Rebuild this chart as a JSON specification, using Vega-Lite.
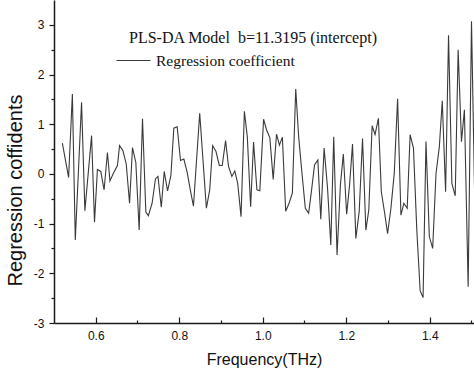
{
  "$schema": "https://vega.github.io/schema/vega-lite/v6.json",
  "width": 420,
  "height": 323,
  "autosize": {"type": "none"},
  "padding": {"left": 54, "top": 0, "right": 0, "bottom": 45},
  "background": "white",
  "config": {"view": {"stroke": null}},
  "title": {
    "text": "PLS-DA Model\u00a0\u00a0b=11.3195 (intercept)",
    "orient": "top",
    "anchor": "start",
    "frame": "group",
    "offset": -59,
    "dx": 75,
    "baseline": "alphabetic",
    "font": "Liberation Serif",
    "fontSize": 16,
    "fontWeight": "normal",
    "color": "#111"
  },
  "data": {
    "values": [
      {"f": 0.520, "v": 0.62}, {"f": 0.535, "v": -0.07}, {"f": 0.544, "v": 1.61}, {"f": 0.551, "v": -1.33},
      {"f": 0.566, "v": 1.44}, {"f": 0.574, "v": -0.74}, {"f": 0.590, "v": 0.77}, {"f": 0.597, "v": -0.97},
      {"f": 0.604, "v": 0.09}, {"f": 0.612, "v": 0.05}, {"f": 0.620, "v": -0.32}, {"f": 0.628, "v": 0.43},
      {"f": 0.634, "v": -0.14}, {"f": 0.642, "v": 0.01}, {"f": 0.652, "v": 0.17}, {"f": 0.657, "v": 0.57},
      {"f": 0.665, "v": 0.47}, {"f": 0.673, "v": 0.20}, {"f": 0.681, "v": -0.59}, {"f": 0.688, "v": 0.53},
      {"f": 0.696, "v": 0.23}, {"f": 0.704, "v": -1.13}, {"f": 0.712, "v": 1.11}, {"f": 0.720, "v": -0.77},
      {"f": 0.726, "v": -0.84}, {"f": 0.735, "v": -0.59}, {"f": 0.743, "v": -0.10}, {"f": 0.749, "v": -0.05},
      {"f": 0.757, "v": -0.67}, {"f": 0.764, "v": 0.05}, {"f": 0.772, "v": -0.34}, {"f": 0.780, "v": -0.03},
      {"f": 0.787, "v": 0.92}, {"f": 0.795, "v": 0.95}, {"f": 0.803, "v": 0.27}, {"f": 0.811, "v": 0.30},
      {"f": 0.819, "v": 0.03}, {"f": 0.826, "v": -0.30}, {"f": 0.834, "v": -0.65}, {"f": 0.849, "v": 1.22},
      {"f": 0.865, "v": -0.69}, {"f": 0.873, "v": -0.32}, {"f": 0.880, "v": 0.57}, {"f": 0.888, "v": 0.45},
      {"f": 0.896, "v": 0.17}, {"f": 0.903, "v": 0.17}, {"f": 0.911, "v": 0.67}, {"f": 0.918, "v": 0.15},
      {"f": 0.926, "v": -0.05}, {"f": 0.933, "v": 0.06}, {"f": 0.940, "v": -0.19}, {"f": 0.948, "v": -0.86},
      {"f": 0.956, "v": 1.26}, {"f": 0.963, "v": 0.75}, {"f": 0.971, "v": -0.66}, {"f": 0.978, "v": 0.64},
      {"f": 0.986, "v": -0.32}, {"f": 0.993, "v": -0.34}, {"f": 1.002, "v": 1.10}, {"f": 1.009, "v": 0.89},
      {"f": 1.017, "v": 0.73}, {"f": 1.025, "v": -0.11}, {"f": 1.033, "v": 0.80}, {"f": 1.040, "v": 0.58},
      {"f": 1.047, "v": 0.74}, {"f": 1.055, "v": -0.75}, {"f": 1.063, "v": -0.59}, {"f": 1.071, "v": -0.38},
      {"f": 1.079, "v": 1.71}, {"f": 1.086, "v": 0.75}, {"f": 1.094, "v": 0.01}, {"f": 1.102, "v": -0.69},
      {"f": 1.110, "v": -0.79}, {"f": 1.117, "v": -0.32}, {"f": 1.124, "v": 0.18}, {"f": 1.132, "v": 0.28},
      {"f": 1.139, "v": -0.91}, {"f": 1.147, "v": 0.52}, {"f": 1.155, "v": -0.26}, {"f": 1.163, "v": -1.43},
      {"f": 1.170, "v": 0.75}, {"f": 1.178, "v": -1.63}, {"f": 1.186, "v": -0.22}, {"f": 1.193, "v": 0.40},
      {"f": 1.201, "v": -0.81}, {"f": 1.208, "v": -0.22}, {"f": 1.215, "v": 0.60}, {"f": 1.223, "v": -1.30},
      {"f": 1.231, "v": -0.76}, {"f": 1.239, "v": 0.71}, {"f": 1.247, "v": -1.13}, {"f": 1.254, "v": -0.73},
      {"f": 1.262, "v": 0.97}, {"f": 1.269, "v": 0.79}, {"f": 1.277, "v": 1.12}, {"f": 1.284, "v": -0.36},
      {"f": 1.292, "v": -0.79}, {"f": 1.299, "v": -1.20}, {"f": 1.307, "v": -0.69}, {"f": 1.315, "v": 0.01},
      {"f": 1.323, "v": 1.51}, {"f": 1.331, "v": -0.83}, {"f": 1.338, "v": -0.59}, {"f": 1.346, "v": -0.69},
      {"f": 1.353, "v": 0.79}, {"f": 1.361, "v": 0.52}, {"f": 1.369, "v": -1.13}, {"f": 1.377, "v": -2.35},
      {"f": 1.384, "v": -2.49}, {"f": 1.391, "v": 0.65}, {"f": 1.399, "v": -1.26}, {"f": 1.407, "v": -1.50},
      {"f": 1.415, "v": 0.01}, {"f": 1.423, "v": 0.55}, {"f": 1.430, "v": 1.47}, {"f": 1.438, "v": -0.36},
      {"f": 1.445, "v": 2.79}, {"f": 1.453, "v": -0.19}, {"f": 1.461, "v": -0.44}, {"f": 1.468, "v": 2.50},
      {"f": 1.476, "v": 0.65}, {"f": 1.483, "v": 1.29}, {"f": 1.492, "v": -2.27}, {"f": 1.500, "v": 3.07},
      {"f": 1.508, "v": -0.65}
    ]
  },
  "transform": [{"calculate": "'Regression coefficient'", "as": "series"}],
  "mark": {"type": "line", "strokeWidth": 1.1, "clip": true},
  "encoding": {
    "x": {
      "field": "f",
      "type": "quantitative",
      "scale": {"domain": [0.5, 1.506], "nice": false, "zero": false},
      "axis": {
        "title": "Frequency(THz)",
        "values": [0.6, 0.7, 0.8, 0.9, 1.0, 1.1, 1.2, 1.3, 1.4, 1.5],
        "labelExpr": "round(datum.value*10) % 2 == 0 ? format(datum.value, '.1f') : ''",
        "tickSize": {"condition": {"test": "round(datum.value*10) % 2 == 0", "value": -6}, "value": -3},
        "labelPadding": 13,
        "labelFont": "Liberation Sans",
        "labelFontSize": 12,
        "labelColor": "#111",
        "labelBaseline": "top",
        "grid": false,
        "domainColor": "#1a1a1a",
        "domainWidth": 1.5,
        "tickColor": "#1a1a1a",
        "tickWidth": 1.2,
        "titleFont": "Liberation Sans",
        "titleFontSize": 16,
        "titleFontWeight": "normal",
        "titleColor": "#111",
        "titleBaseline": "alphabetic",
        "titleX": 210,
        "titleY": 41
      }
    },
    "y": {
      "field": "v",
      "type": "quantitative",
      "scale": {"domain": [-3, 3.5], "nice": false, "zero": false},
      "axis": {
        "title": "Regression coffidents",
        "values": [-3, -2.5, -2, -1.5, -1, -0.5, 0, 0.5, 1, 1.5, 2, 2.5, 3],
        "labelExpr": "datum.value % 1 == 0 ? '' + datum.value : ''",
        "tickSize": {"condition": {"test": "datum.value % 1 == 0", "value": 5}, "value": 3},
        "labelPadding": 5,
        "labelFont": "Liberation Sans",
        "labelFontSize": 12,
        "labelColor": "#111",
        "grid": false,
        "domainColor": "#1a1a1a",
        "domainWidth": 1.5,
        "tickColor": "#1a1a1a",
        "tickWidth": 1.2,
        "titleFont": "Liberation Sans",
        "titleFontSize": 20,
        "titleFontWeight": "normal",
        "titleColor": "#111",
        "titleBaseline": "middle",
        "titleX": -39,
        "titleY": 190
      }
    },
    "color": {
      "field": "series",
      "type": "nominal",
      "scale": {"domain": ["Regression coefficient"], "range": ["#3a3a3a"]},
      "legend": {
        "orient": "none",
        "legendX": 62,
        "legendY": 43,
        "padding": 0,
        "title": null,
        "symbolType": "stroke",
        "symbolSize": 1156,
        "symbolStrokeWidth": 1,
        "labelFont": "Liberation Serif",
        "labelFontSize": 15.5,
        "labelColor": "#111",
        "labelOffset": 5
      }
    }
  }
}
